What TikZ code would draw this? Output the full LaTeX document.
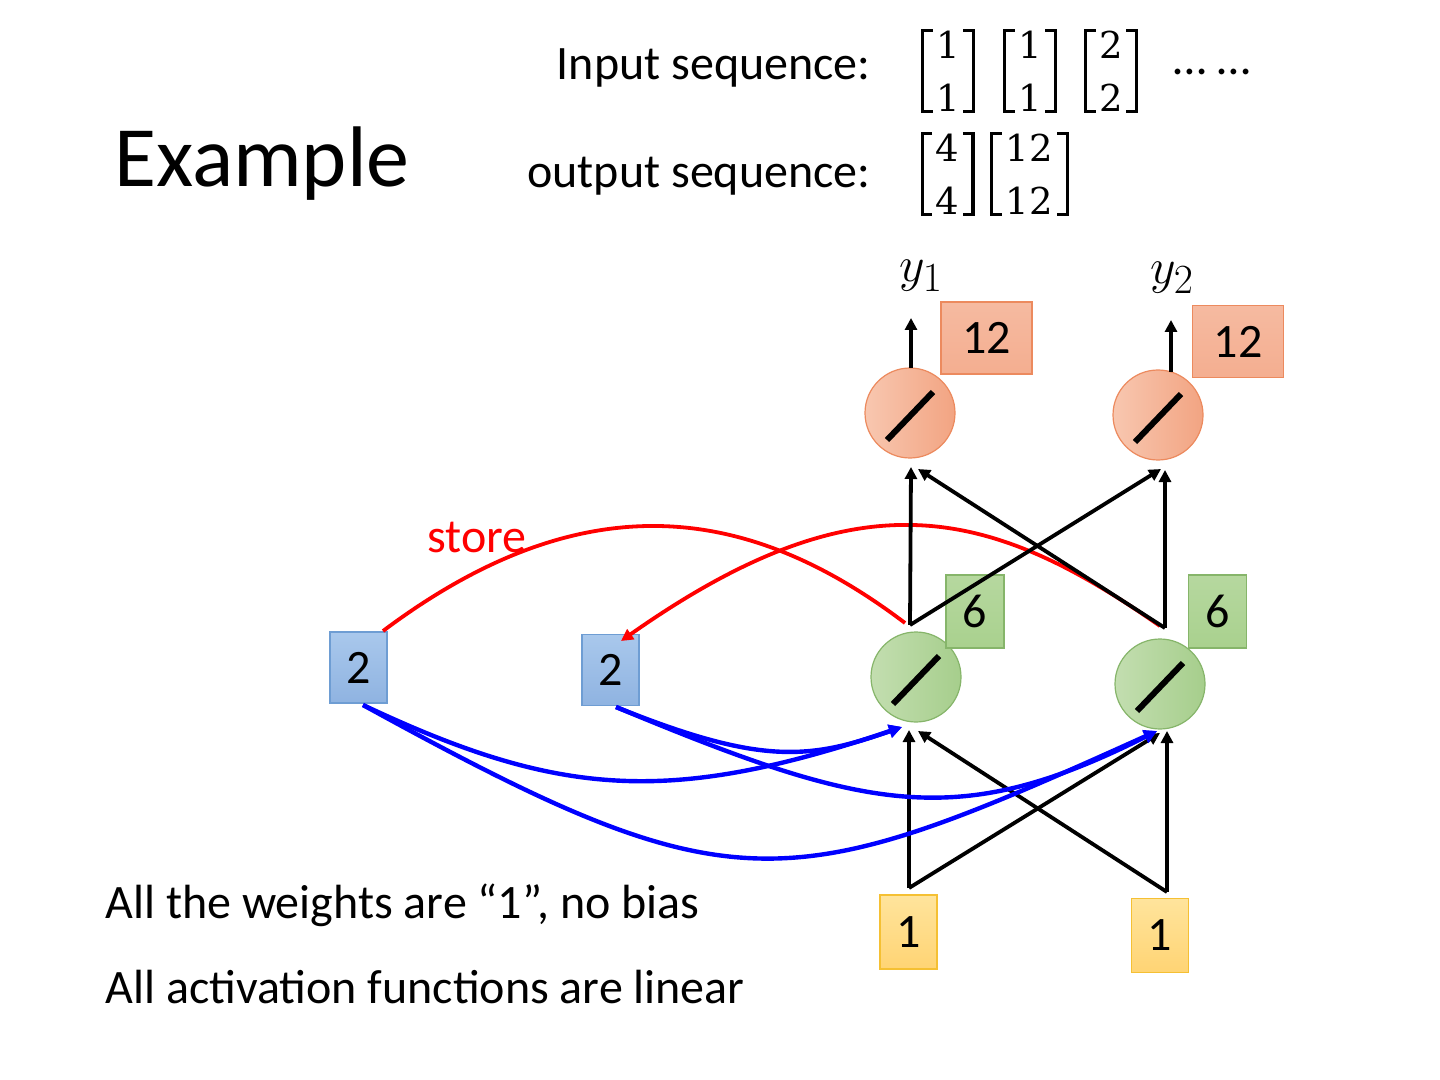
\documentclass[tikz,border=0pt]{standalone}
\usepackage[no-math]{fontspec}
\setmainfont{Carlito}
\newfontfamily\digfont{DejaVu Serif}
\usetikzlibrary{arrows.meta}
\definecolor{orL}{HTML}{F8C7B0}
\definecolor{orR}{HTML}{F2A482}
\definecolor{orEdge}{HTML}{EC8A5E}
\definecolor{orBox}{HTML}{F4AE90}
\definecolor{grL}{HTML}{C3DEB0}
\definecolor{grR}{HTML}{A6CE8C}
\definecolor{grEdge}{HTML}{86B56A}
\definecolor{grBox}{HTML}{A9D18E}
\definecolor{blT}{HTML}{A9C8EC}
\definecolor{blB}{HTML}{8FB3E1}
\definecolor{blEdge}{HTML}{6E9DD3}
\definecolor{yeT}{HTML}{FFE49C}
\definecolor{yeB}{HTML}{FFD474}
\definecolor{yeEdge}{HTML}{F5C033}
\begin{document}
\begin{tikzpicture}[x=0.5pt,y=-0.5pt,
  txt/.style={inner sep=0pt, font=\fontsize{24}{28}\selectfont},
  vec/.style={inner xsep=0pt, inner ysep=0pt, align=center, minimum width=25pt,
    font=\digfont\fontsize{18.5}{26.5}\selectfont},
  vecw/.style={vec, minimum width=37.5pt},
  brk/.style={line width=1.6pt},
  lbl/.style={inner sep=0pt, font=\fontsize{24.88}{30}\selectfont},
  neuron/.style={circle, minimum size=45pt, inner sep=0pt, line width=0.6pt,
    path picture={\draw[black, line width=3pt]
      ([shift={(-23,27)}]path picture bounding box.center) --
      ([shift={(23,-21)}]path picture bounding box.center);}},
  outn/.style={neuron, draw=orEdge, left color=orL, right color=orR},
  hidn/.style={neuron, draw=grEdge, left color=grL, right color=grR},
  valbox/.style={rectangle, inner sep=0pt, line width=0.6pt, font=\fontsize{24}{28}\selectfont},
  obox/.style={valbox, draw=orEdge, top color=orBox!85!white, bottom color=orBox, minimum width=45.5pt, minimum height=36pt},
  gbox/.style={valbox, draw=grEdge, top color=grBox!85!white, bottom color=grBox, minimum width=29pt, minimum height=36.5pt},
  bbox/.style={valbox, draw=blEdge, top color=blT, bottom color=blB, minimum width=28.5pt, minimum height=35.5pt},
  ybox/.style={valbox, draw=yeEdge, line width=0.9pt, top color=yeT, bottom color=yeB, minimum width=28.5pt, minimum height=37pt},
  blk/.style={line width=1.9pt, -{Triangle[length=6pt,width=6pt]}},
  blu/.style={line width=2.2pt, draw={rgb,255:red,0;green,0;blue,255}, -{Triangle[length=6.5pt,width=6.5pt]}},
  redl/.style={line width=1.9pt, draw={rgb,255:red,255;green,0;blue,0}},
]
\useasboundingbox (0,0) rectangle (1440,1080);

% titles and texts
\node[inner sep=0pt, font=\fontsize{43}{48}\selectfont, anchor=base west] (title) at (114,187) {Example};
\node[txt, anchor=base east] (inlab) at (871,80) {Input sequence:};
\node[txt, anchor=base east] (outlab) at (871,188) {output sequence:};
\node[vec] (in1) at (948,71) {1\\1};
\node[vec] (in2) at (1030,71) {1\\1};
\node[vec] (in3) at (1111,71) {2\\2};
\node[txt, anchor=base] (dots) at (1212,75) {…\ …};
\node[vec] (out1) at (947.5,174) {4\\4};
\node[vecw] (out2) at (1029.5,174) {12\\12};
\foreach \n in {in1,in2,in3,out1,out2}{
  \draw[brk] ([xshift=5pt]\n.north west) -- (\n.north west) -- (\n.south west) -- ([xshift=5pt]\n.south west);
  \draw[brk] ([xshift=-5pt]\n.north east) -- (\n.north east) -- (\n.south east) -- ([xshift=-5pt]\n.south east);
}
\node[txt, anchor=base west] (note1) at (105,918) {All the weights are “1”, no bias};
\node[txt, anchor=base west] (note2) at (105,1003) {All activation functions are linear};
\node[txt, text={rgb,255:red,255;green,0;blue,0}] (store) at (477,537) {store};

% neurons
\node[outn] (o1) at (910,413) {};
\node[outn] (o2) at (1158,415) {};
\node[hidn] (h1) at (916,677) {};
\node[hidn] (h2) at (1160,684) {};

% value boxes
\node[obox] (v1) at (986.5,338) {12};
\node[obox] (v2) at (1238,341.5) {12};
\node[gbox] (g1) at (975,611.5) {6};
\node[gbox] (g2) at (1217.5,611.5) {6};
\node[bbox] (m1) at (358.5,667.5) {2};
\node[bbox] (m2) at (610.5,670) {2};
\node[ybox] (x1) at (908.5,932) {1};
\node[ybox] (x2) at (1160,935.5) {1};

% output labels
\node[lbl] (y1) at (921,276) {$y_1$};
\node[lbl] (y2) at (1172,278) {$y_2$};

% junction coordinates
\coordinate (h1out) at (910,625);
\coordinate (h2out) at (1165,628);
\coordinate (o1inV) at (911,467);
\coordinate (o1inD) at (918,469);
\coordinate (o2inV) at (1165,470);
\coordinate (o2inD) at (1161,469);
\coordinate (o1up) at (911,368);
\coordinate (y1tip) at (911,318);
\coordinate (o2up) at (1171,372);
\coordinate (y2tip) at (1171,320);
\coordinate (i1top) at (909,888);
\coordinate (i2top) at (1167,892);
\coordinate (h1inV) at (909,730);
\coordinate (h1inD) at (918,731);
\coordinate (h2inV) at (1167,731);
\coordinate (h2inD) at (1160,733);
\coordinate (m1bot) at (363,705);
\coordinate (m2bot) at (616,707);
\coordinate (h1blue) at (902,727);
\coordinate (h2blue) at (1157,731);
\coordinate (m1top) at (383,631);
\coordinate (h1red) at (905,623);
\coordinate (h2red) at (1160,626);
\coordinate (m2top) at (621,641);

% red store curves
\draw[redl] (m1top) .. controls (587,478) and (752,507) .. (h1red);
\draw[redl, -{Triangle[length=6pt,width=6pt]}] (h2red) .. controls (987,505) and (857,475) .. (m2top);

% hidden -> output
\draw[blk] (h1out) -- (o1inV);
\draw[blk] (h1out) -- (o2inD);
\draw[blk] (h2out) -- (o2inV);
\draw[blk] (h2out) -- (o1inD);
\draw[blk] (o1up) -- (y1tip);
\draw[blk] (o2up) -- (y2tip);

% input -> hidden
\draw[blk] (i1top) -- (h1inV);
\draw[blk] (i1top) -- (h2inD);
\draw[blk] (i2top) -- (h2inV);
\draw[blk] (i2top) -- (h1inD);

% memory -> hidden (blue)
\draw[blu] (m1bot) .. controls (560,798) and (670,805) .. (h1blue);
\draw[blu] (m1bot) .. controls (736,910) and (785,899) .. (h2blue);
\draw[blu] (m2bot) .. controls (762,766) and (810,759) .. (h1blue);
\draw[blu] (m2bot) .. controls (868,812) and (958,831) .. (h2blue);
\end{tikzpicture}
\end{document}
